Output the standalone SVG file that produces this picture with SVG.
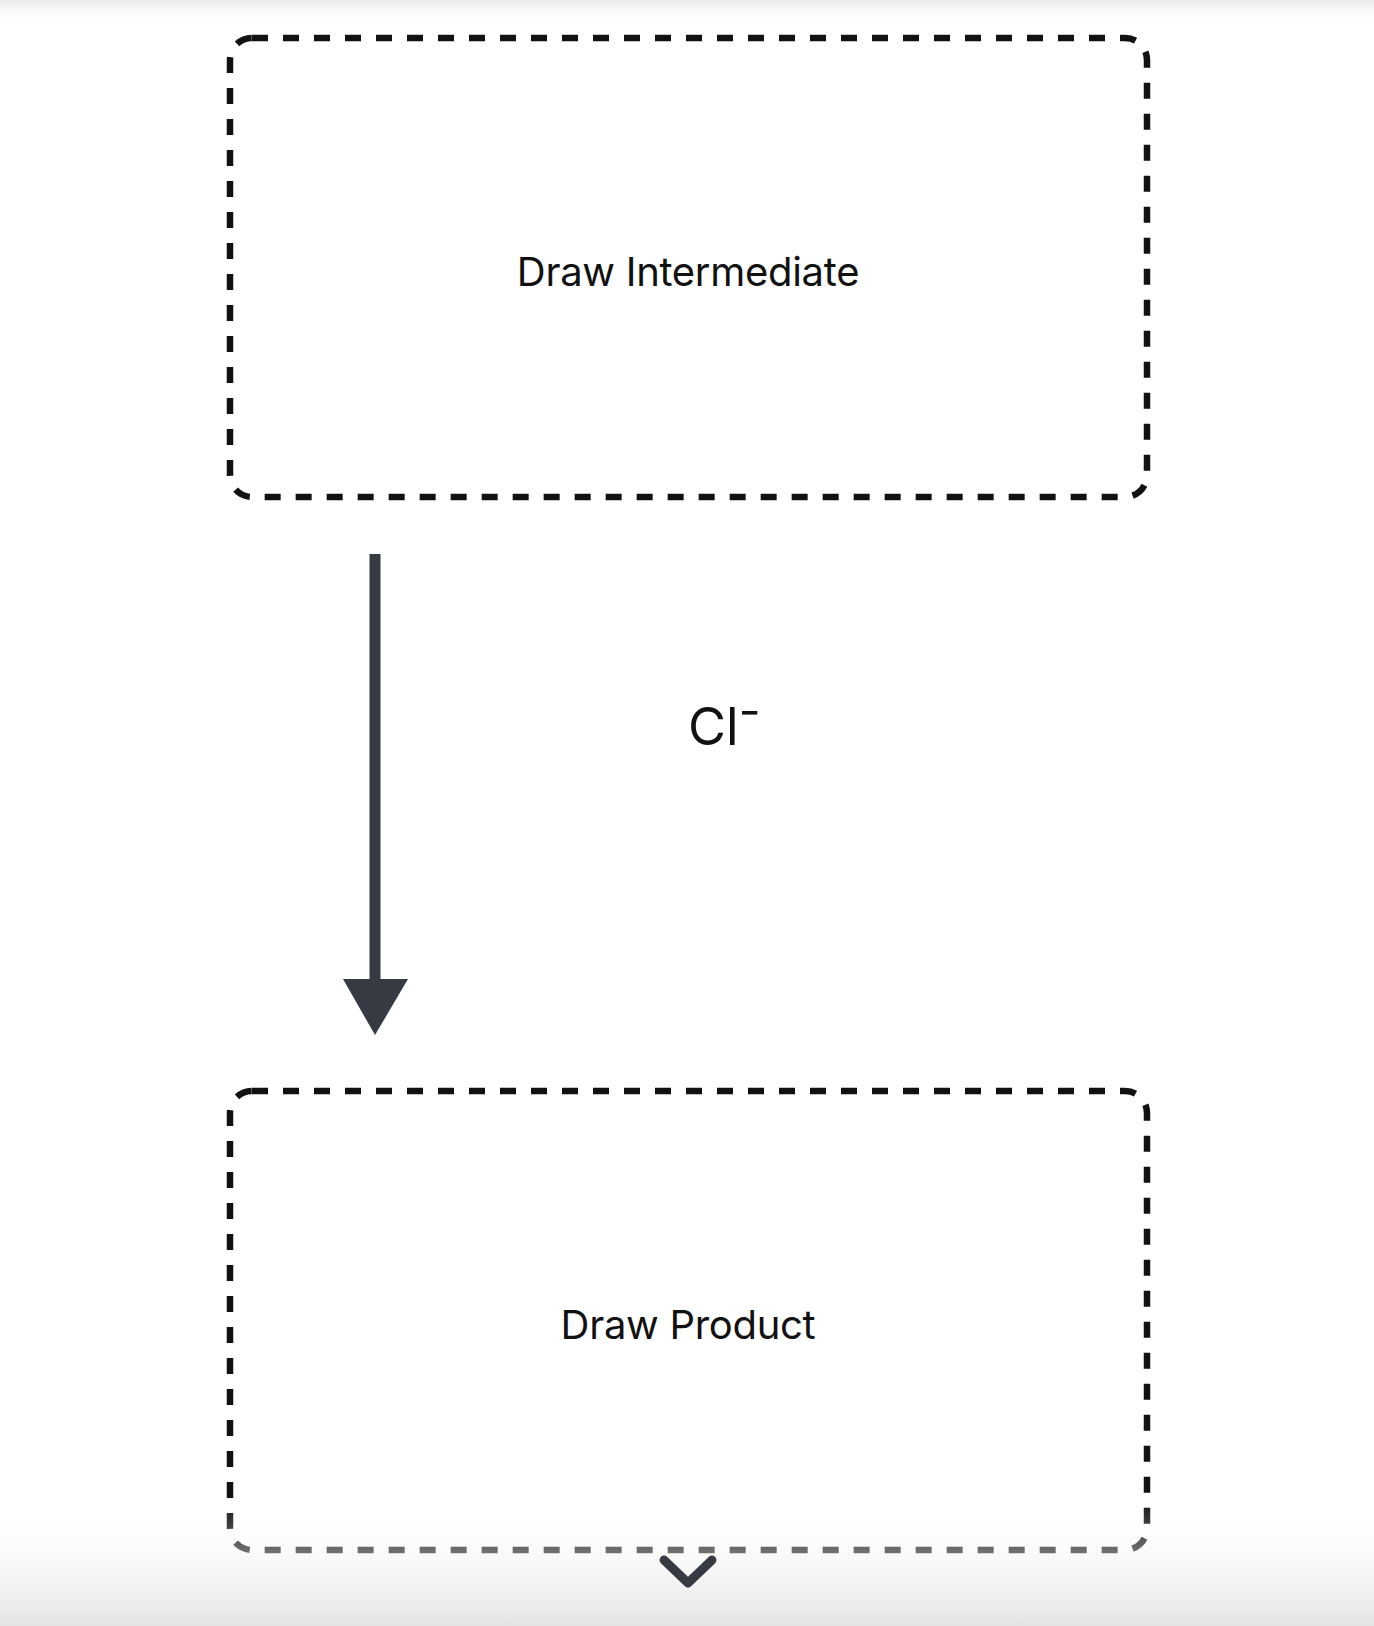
<svg xmlns="http://www.w3.org/2000/svg" width="1374" height="1626" viewBox="0 0 1374 1626">
<style>
.box{fill:none;stroke:#111;stroke-width:6.5;stroke-dasharray:16 15}
.lbl{font-family:Inter,"Liberation Sans",sans-serif;font-size:40px;fill:#111;text-anchor:middle;letter-spacing:-0.3px}
</style>
<defs>
<linearGradient id="fb" x1="0" y1="0" x2="0" y2="1"><stop offset="0" stop-color="#fff" stop-opacity="0"/><stop offset="1" stop-color="#e4e4e4"/></linearGradient>
<linearGradient id="ft" x1="0" y1="0" x2="0" y2="1"><stop offset="0" stop-color="#e8e8e8"/><stop offset="1" stop-color="#fff" stop-opacity="0"/></linearGradient>
</defs>
<rect width="1374" height="1626" fill="#fff"/>
<g id="intermediate"><rect class="box" x="230" y="38" width="917" height="459" rx="22"/><text class="lbl" x="688" y="286">Draw Intermediate</text></g>
<g id="product"><rect class="box" x="230" y="1091" width="917" height="459" rx="22"/><text class="lbl" x="688" y="1339">Draw Product</text></g>
<g id="connectors">
<line x1="375" y1="554" x2="375" y2="985" stroke="#363a42" stroke-width="11"/>
<polygon points="343,979 408,979 375,1035" fill="#363a42"/>
<text x="688" y="745" font-family="Inter,'Liberation Sans',sans-serif" font-size="52" fill="#111">Cl⁻</text>
</g>
<rect x="0" y="0" width="1374" height="22" fill="url(#ft)"/>
<rect x="0" y="1500" width="1374" height="126" fill="url(#fb)"/>
<polyline points="664,1560 688,1583 712,1560" fill="none" stroke="#363a42" stroke-width="9" stroke-linecap="round" stroke-linejoin="round"/>
</svg>
